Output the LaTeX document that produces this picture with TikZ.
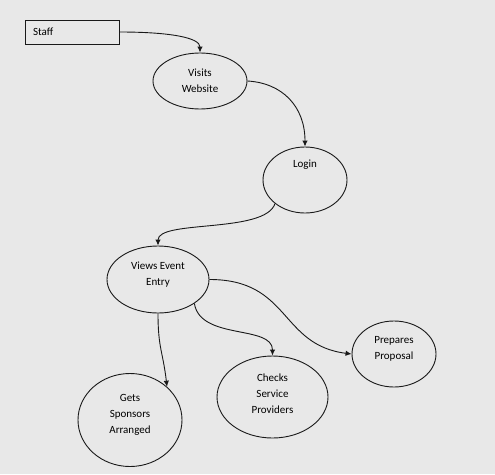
\documentclass[tikz,border=0pt]{standalone}
\usepackage{fontspec}
\setmainfont{Carlito}
\usepackage{xcolor}
\usepackage{tikz}
\usetikzlibrary{arrows.meta,shapes.geometric}
\definecolor{bgpaper}{RGB}{232,232,232}
\definecolor{inkline}{RGB}{25,25,25}

\begin{document}
\begin{tikzpicture}[
    x=1pt, y=-1pt,
    actor/.style={rectangle, draw=inkline, line width=0.9pt, minimum width=94pt, minimum height=24pt, text width=78pt, inner xsep=8pt, align=left, font=\fontsize{11}{16}\selectfont},
    bubble/.style={ellipse, draw=inkline, line width=0.9pt, inner sep=0pt, align=center, font=\fontsize{11}{16}\selectfont},
    arrow/.style={-{Latex[length=6pt,width=5.5pt]}, line width=0.9pt, draw=inkline}
]
\fill[bgpaper] (0,0) rectangle (495,474);
\useasboundingbox (0,0) rectangle (495,474);
\node[actor] (staff) at (72,32) {Staff};
\node[bubble, minimum width=94pt, minimum height=56pt] (visits) at (200,81) {Visits\\Website};
\node[bubble, minimum width=84pt, minimum height=66pt, label={[font=\fontsize{11}{16}\selectfont, yshift=15pt]center:Login}] (login) at (305,180) {};
\node[bubble, minimum width=102pt, minimum height=67pt, text depth=11pt] (views) at (158,279.5) {Views Event\\Entry};
\node[bubble, minimum width=104pt, minimum height=93pt, text depth=12pt] (sponsors) at (130,420) {Gets\\Sponsors\\Arranged};
\node[bubble, minimum width=111pt, minimum height=82pt, text depth=6pt] (checks) at (272.5,397) {Checks\\Service\\Providers};
\node[bubble, minimum width=84pt, minimum height=66pt, text depth=12pt] (proposal) at (394,354) {Prepares\\Proposal};
\draw[arrow] (staff.east) .. controls +(50,0) and +(0,-15) .. (visits.north);
\draw[arrow] (visits.east) .. controls +(35,2) and +(0,-40) .. (login.north);
\draw[arrow] (login.south west) .. controls +(-10,30) and +(0,-26) .. (views.north);
\draw[arrow] (views.east) .. controls +(81,0) and +(-72,-9) .. (proposal.west);
\draw[arrow] (views.south east) .. controls +(6,37) and +(0,-31) .. (checks.north);
\draw[arrow] (views.south) .. controls +(0,35) and +(-4,-35) .. (sponsors.42);
\end{tikzpicture}
\end{document}
